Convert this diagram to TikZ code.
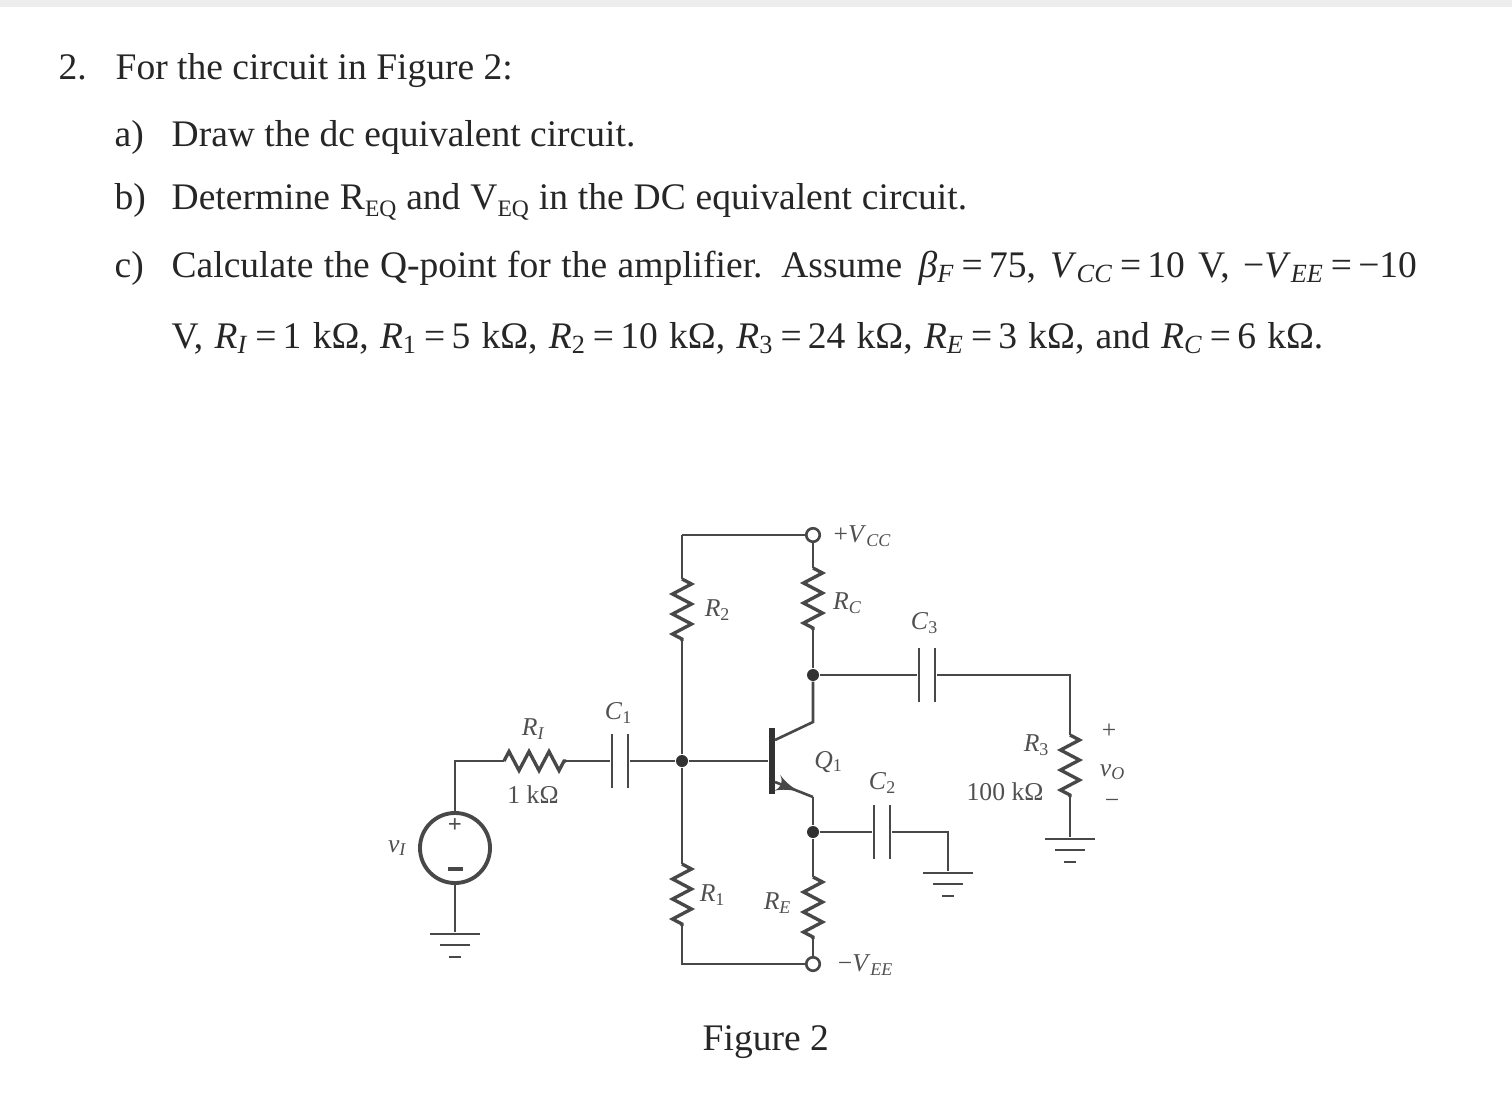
\documentclass[tikz,border=0pt]{standalone}
\usepackage{fontspec}
\setmainfont{Liberation Serif}
\usetikzlibrary{arrows}
\usetikzlibrary{decorations.markings}
\usetikzlibrary{decorations.pathmorphing}
\definecolor{wirec}{HTML}{484848}
\definecolor{labelc}{HTML}{505050}
\definecolor{textc}{HTML}{262626}
\newcommand{\isub}[2]{\textit{#1}\textsubscript{\textit{#2}}}
\newcommand{\rsub}[2]{\textit{#1}\textsubscript{#2}}
\newcommand{\eqsub}{\raisebox{-2pt}{\fontsize{6.7}{7}\selectfont EQ}}
\tikzset{wire/.style = {draw=wirec, line width=0.75pt, line join=miter}}
\tikzset{res/.style = {wire, line width=0.95pt, decorate, decoration={zigzag, segment length=0.2cm, amplitude=0.095cm}}}
\tikzset{emit/.style = {decoration={markings,
                                    mark=at position 0.62 with {\arrow[scale=1.3]{latex'}}},
                        postaction={decorate}}}
\tikzset{circ/.style = {fill=wirec!70!black, circle, inner sep = 0, minimum size = 0.12cm}}
\tikzset{term/.style = {draw=wirec, fill=white, circle, line width=0.75pt, inner sep = 0, minimum size = 0.135cm}}
\tikzset{plate/.style = {fill=wirec, rectangle, inner sep = 0, minimum width = 0.022cm, minimum height = 0.54cm}}
\tikzset{gline/.style = {fill=wirec, rectangle, inner sep = 0, minimum height = 0.022cm}}
\tikzset{lab/.style = {text=labelc, inner sep = 0, font=\fontsize{7.3}{8}\selectfont}}
\tikzset{body/.style = {text=textc, anchor=base west, inner sep = 0, font=\fontsize{10.67}{12}\selectfont}}
\begin{document}
\begin{tikzpicture}[x=0.01cm, y=-0.01cm]
      \useasboundingbox (0, 0) rectangle (1512, 1112);
      \fill [black!7] (0, 0) rectangle (1512, 7);
      % question text
      \node [body] (qnum) at (58, 80) {2.};
      \node [body] (qhead) at (115, 80) {For the circuit in Figure 2:};
      \node [body] (qa) at (114, 146) {a)};
      \node [body] (qatxt) at (171, 146) {Draw the dc equivalent circuit.};
      \node [body] (qb) at (114, 209) {b)};
      \node [body] (qbtxt) at (171, 209) {\hbox to 7.95cm{Determine R\eqsub{} and V\eqsub{} in the DC equivalent circuit.}};
      \node [body] (qc) at (114, 277) {c)};
      \node [body] (qctxt) at (171, 277) {\hbox to 7.30cm{Calculate the Q-point for the amplifier.\hspace{0.5em}Assume}};
      \node [body] (qcval) at (918, 277) {\hbox to 4.98cm{\isub{β}{F}\,=\,75, \isub{V}{CC}\,=\,10 V, −\isub{V}{EE}\,=\,−10}};
      \node [body] (qdtxt) at (171, 348) {\hbox to 11.51cm{V, \isub{R}{I}\,=\,1 kΩ, \rsub{R}{1}\,=\,5 kΩ, \rsub{R}{2}\,=\,10 kΩ, \rsub{R}{3}\,=\,24 kΩ, \isub{R}{E}\,=\,3 kΩ, and \isub{R}{C}\,=\,6 kΩ.}};
      \node [body] (fig) at (702, 1050) {Figure 2};
      % junctions and terminals
      \node [term] (vcc) at (813, 535) {};
      \node [term] (vee) at (813, 964) {};
      \node [circ] (jb) at (682, 761) {};
      \node [circ] (jc) at (813, 675) {};
      \node [circ] (je) at (813, 832) {};
      \coordinate (tl) at (682, 535);
      \coordinate (bl) at (682, 964);
      \coordinate (srcc) at (455, 761);
      \coordinate (outc) at (1070, 675);
      \coordinate (c2c) at (948, 832);
      % resistor ends
      \coordinate (r2a) at (682, 579);
      \coordinate (r2b) at (682, 641);
      \coordinate (r1a) at (682, 864);
      \coordinate (r1b) at (682, 926);
      \coordinate (rca) at (813, 568);
      \coordinate (rcb) at (813, 630);
      \coordinate (rea) at (813, 877);
      \coordinate (reb) at (813, 939);
      \coordinate (r3a) at (1070, 735);
      \coordinate (r3b) at (1070, 797);
      \coordinate (ria) at (504, 761);
      \coordinate (rib) at (566, 761);
      % capacitors
      \node [plate] (c1l) at (612, 761) {};
      \node [plate] (c1r) at (628, 761) {};
      \node [plate] (c3l) at (919, 675) {};
      \node [plate] (c3r) at (935, 675) {};
      \node [plate] (c2l) at (874, 832) {};
      \node [plate] (c2r) at (890, 832) {};
      % transistor
      \node [fill=wirec!70!black, inner sep = 0, minimum width = 0.065cm, minimum height = 0.65cm] (bar) at (772, 761) {};
      \coordinate (qc) at (775, 740);
      \coordinate (qck) at (813, 722);
      \coordinate (qe) at (775, 782);
      \coordinate (qek) at (813, 797);
      % source
      \node [draw=wirec, line width=1.1pt, circle, inner sep = 0, minimum size = 0.7cm] (src) at (455, 848) {};
      \node [lab, font=\fontsize{7}{8}\selectfont\bfseries] (srcp) at (455, 826) {+};
      \node [fill=wirec, inner sep = 0, minimum width = 0.15cm, minimum height = 0.04cm] (srcm) at (455, 869) {};
      % grounds
      \foreach \n/\x/\y in {a/455/934, b/948/873, c/1070/839} {
        \node [gline, minimum width = 0.5cm] (g\n) at (\x, \y) {};
        \node [gline, minimum width = 0.3cm] (g\n2) at (\x, \y+11) {};
        \node [gline, minimum width = 0.12cm] (g\n3) at (\x, \y+23) {};
      }
      % wires
      \draw [wire] (tl) -- (vcc);
      \draw [wire] (tl) -- (r2a);
      \draw [wire] (r2b) -- (jb);
      \draw [wire] (jb) -- (r1a);
      \draw [wire] (r1b) -- (bl) -- (vee);
      \draw [wire] (vcc) -- (rca);
      \draw [wire] (rcb) -- (jc);
      \draw [wire] (jc) -- (qck) -- (qc);
      \draw [wire, emit] (qe) -- (qek);
      \draw [wire] (qek) -- (je);
      \draw [wire] (je) -- (rea);
      \draw [wire] (reb) -- (vee);
      \draw [wire] (jc) -- (c3l);
      \draw [wire] (c3r) -- (outc) -- (r3a);
      \draw [wire] (r3b) -- (gc);
      \draw [wire] (je) -- (c2l);
      \draw [wire] (c2r) -- (c2c) -- (gb);
      \draw [wire] (jb) -- (bar);
      \draw [wire] (c1r) -- (jb);
      \draw [wire] (rib) -- (c1l);
      \draw [wire] (src) -- (srcc) -- (ria);
      \draw [wire] (src) -- (ga);
      % resistors
      \draw (r2a) edge [res] (r2b);
      \draw (r1a) edge [res] (r1b);
      \draw (rca) edge [res] (rcb);
      \draw (rea) edge [res] (reb);
      \draw (r3a) edge [res] (r3b);
      \draw (ria) edge [res] (rib);
      % labels
      \node [lab] (lvcc) at (863, 536) {+\isub{V}{CC}};
      \node [lab] (lvee) at (866, 965) {−\isub{V}{EE}};
      \node [lab] (lr2) at (718, 610) {\rsub{R}{2}};
      \node [lab] (lr1) at (713, 895) {\rsub{R}{1}};
      \node [lab] (lrc) at (848, 603) {\isub{R}{C}};
      \node [lab] (lre) at (778, 903) {\isub{R}{E}};
      \node [lab] (lri) at (534, 729) {\isub{R}{I}};
      \node [lab] (lriv) at (533, 795) {1 kΩ};
      \node [lab] (lc1) at (619, 713) {\rsub{C}{1}};
      \node [lab] (lc2) at (883, 783) {\rsub{C}{2}};
      \node [lab] (lc3) at (925, 623) {\rsub{C}{3}};
      \node [lab] (lq1) at (829, 762) {\rsub{Q}{1}};
      \node [lab] (lr3) at (1037, 745) {\rsub{R}{3}};
      \node [lab] (lr3v) at (1005, 792) {100 kΩ};
      \node [lab] (lvi) at (398, 848) {\isub{v}{I}};
      \node [lab] (lvop) at (1109, 731) {+};
      \node [lab] (lvo) at (1113, 772) {\isub{v}{O}};
      \node [lab] (lvom) at (1112, 804) {−};
    \end{tikzpicture}
\end{document}
